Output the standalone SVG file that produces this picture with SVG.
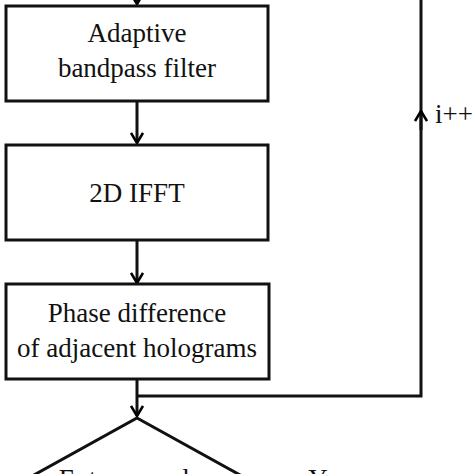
<svg xmlns="http://www.w3.org/2000/svg" width="474" height="474" viewBox="0 0 474 474">
<defs>
<marker id="arr" viewBox="0 0 12 14" refX="11" refY="7" markerWidth="12" markerHeight="14" markerUnits="userSpaceOnUse" orient="auto">
<path d="M1,1 L11,7 L1,13" fill="none" stroke="#000" stroke-width="2.6"/>
</marker>
</defs>
<style>
.box{fill:#fff;stroke:#111;stroke-width:3}
.ln{fill:none;stroke:#111;stroke-width:3}
text{font-family:"Liberation Serif","Times New Roman",serif;font-size:27px;fill:#111;text-anchor:middle}
</style>
<rect width="474" height="474" fill="#fff"/>
<g id="connectors">
<line class="ln" x1="137" y1="-5" x2="137" y2="4" marker-end="url(#arr)"/>
<line class="ln" x1="137" y1="101" x2="137" y2="143" marker-end="url(#arr)"/>
<line class="ln" x1="137" y1="240" x2="137" y2="283" marker-end="url(#arr)"/>
<line class="ln" x1="137" y1="379" x2="137" y2="416" marker-end="url(#arr)"/>
<polyline class="ln" points="137,396 421,396 421,-5"/>
<line class="ln" x1="421" y1="130" x2="421" y2="111" marker-end="url(#arr)"/>
<text x="454" y="123" font-size="26">i++</text>
<text x="328" y="488">Yes</text>
</g>
<g id="n1">
<rect class="box" x="6" y="6" width="262" height="95"/>
<text x="137" y="42">Adaptive</text>
<text x="137" y="77">bandpass filter</text>
</g>
<g id="n2">
<rect class="box" x="6" y="145" width="262" height="95"/>
<text x="137" y="202">2D IFFT</text>
</g>
<g id="n3">
<rect class="box" x="6" y="284" width="263" height="95"/>
<text x="137" y="322">Phase difference</text>
<text x="137" y="357">of adjacent holograms</text>
</g>
<g id="n4">
<polygon class="box" points="137,418 287,501 137,584 -13,501"/>
<text x="137" y="488">Extreme value</text>
</g>
</svg>
